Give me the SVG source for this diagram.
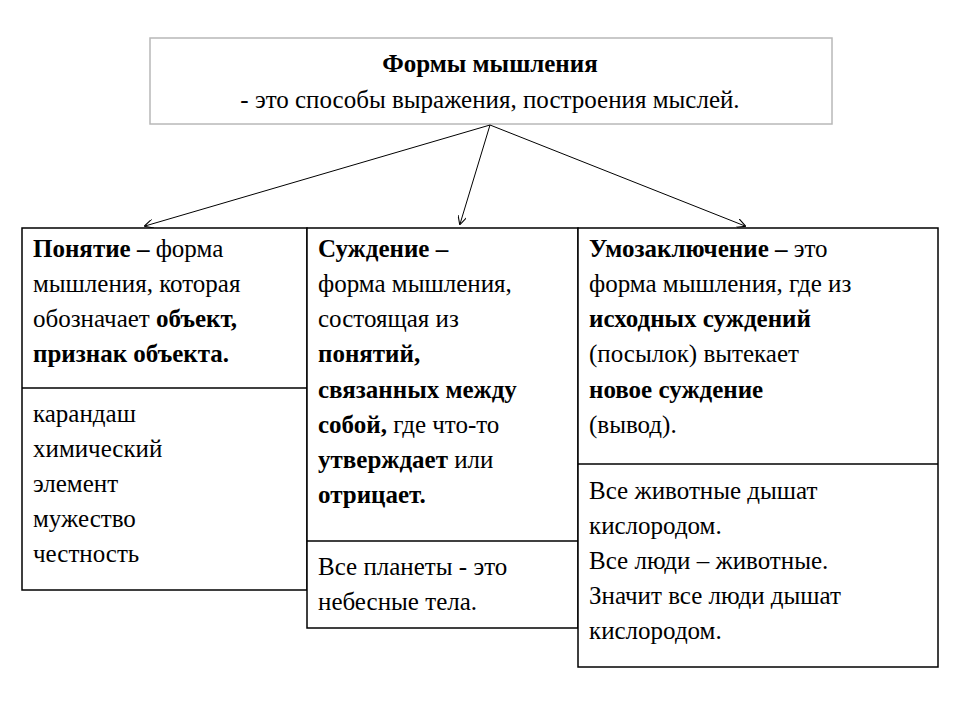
<svg xmlns="http://www.w3.org/2000/svg" width="960" height="720" viewBox="0 0 960 720" font-family="'Liberation Serif', 'DejaVu Serif', serif" font-size="25">
<style>
text{font-family:'Liberation Serif','DejaVu Serif',serif;font-size:25px;fill:#000}
.b{font-weight:bold}
.box{fill:#fff;stroke:#000;stroke-width:1.5}
.ln{stroke:#000;stroke-width:1.5}
.c{stroke:#000;stroke-width:1;fill:none;marker-end:url(#a)}
</style>
<defs><marker id="a" viewBox="0 0 10 10" refX="9" refY="5" markerWidth="9" markerHeight="9" orient="auto" markerUnits="userSpaceOnUse"><path d="M0,0L10,5L0,10" fill="none" stroke="#000" stroke-width="1.2"/></marker></defs>
<rect width="960" height="720" fill="#fff"/>
<g id="title">
<rect x="150" y="38" width="682" height="86" fill="#fff" stroke="#b8b8b8" stroke-width="1.5"/>
<text x="490" y="72" text-anchor="middle" class="b">Формы мышления</text>
<text x="490" y="108" text-anchor="middle">- это способы выражения, построения мыслей.</text>
</g>
<g id="connectors">
<line class="c" x1="490" y1="125" x2="145" y2="226"/>
<line class="c" x1="490" y1="125" x2="460" y2="224"/>
<line class="c" x1="490" y1="125" x2="745" y2="226"/>
</g>
<g id="ponyatie">
<rect class="box" x="22" y="228" width="285" height="362"/>
<line class="ln" x1="22" y1="388" x2="307" y2="388"/>
<text x="33" y="257"><tspan class="b">Понятие –</tspan> форма</text>
<text x="33" y="292">мышления, которая</text>
<text x="33" y="327">обозначает <tspan class="b">объект,</tspan></text>
<text x="33" y="362" class="b">признак объекта.</text>
<text x="33" y="422">карандаш</text>
<text x="33" y="457">химический</text>
<text x="33" y="492">элемент</text>
<text x="33" y="527">мужество</text>
<text x="33" y="562">честность</text>
</g>
<g id="suzhdenie">
<rect class="box" x="307" y="228" width="271" height="400"/>
<line class="ln" x1="307" y1="541" x2="578" y2="541"/>
<text x="318" y="257" class="b">Суждение –</text>
<text x="318" y="292">форма мышления,</text>
<text x="318" y="327">состоящая из</text>
<text x="318" y="362" class="b">понятий,</text>
<text x="318" y="398" class="b">связанных между</text>
<text x="318" y="433"><tspan class="b">собой,</tspan> где что-то</text>
<text x="318" y="468"><tspan class="b">утверждает</tspan> или</text>
<text x="318" y="503" class="b">отрицает.</text>
<text x="318" y="575">Все планеты - это</text>
<text x="318" y="610">небесные тела.</text>
</g>
<g id="umozakl">
<rect class="box" x="578" y="228" width="360" height="439"/>
<line class="ln" x1="578" y1="464" x2="938" y2="464"/>
<text x="589" y="257"><tspan class="b">Умозаключение –</tspan> это</text>
<text x="589" y="292">форма мышления, где из</text>
<text x="589" y="327" class="b">исходных суждений</text>
<text x="589" y="362">(посылок) вытекает</text>
<text x="589" y="398" class="b">новое суждение</text>
<text x="589" y="433">(вывод).</text>
<text x="589" y="499">Все животные дышат</text>
<text x="589" y="534">кислородом.</text>
<text x="589" y="569">Все люди – животные.</text>
<text x="589" y="604">Значит все люди дышат</text>
<text x="589" y="639">кислородом.</text>
</g>
</svg>
